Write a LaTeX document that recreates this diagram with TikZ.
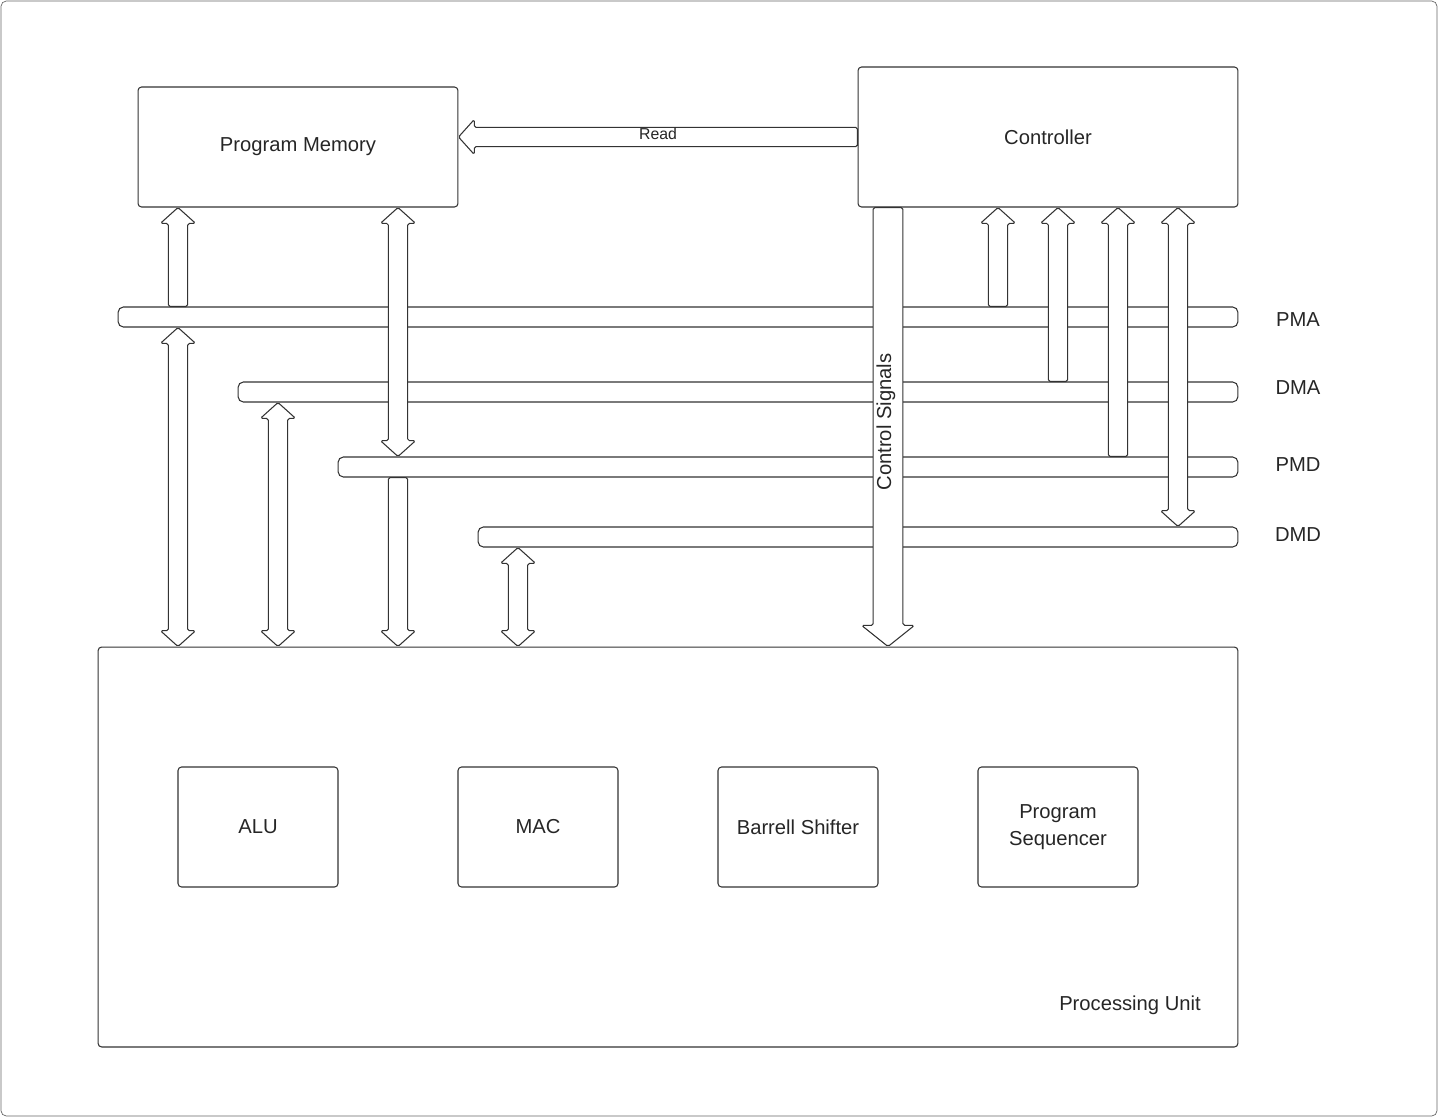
\documentclass[tikz,border=0pt]{standalone}
\usepackage{fontspec}
\setmainfont{Liberation Sans}
\usetikzlibrary{calc}
\tikzset{
  box/.style = {rectangle, rounded corners=2pt, draw=black!80, line width=0.6pt,
    text centered, align=center, font=\fontsize{11.5}{15}\selectfont, text=black!85},
  bus/.style = {rectangle, rounded corners=3pt, draw=black!80, line width=0.6pt,
    minimum height=0.4cm, inner sep=0pt},
  buslabel/.style = {font=\fontsize{11.5}{14}\selectfont, text=black!85},
  blockarrow/.style = {draw=black!80, fill=white, line width=0.6pt, rounded corners=1pt},
}
\def\sw{5.5pt}\def\hw{10pt}\def\hl{9pt}
% single block arrow, head at #2 (vertical)
\newcommand{\sarrow}[2]{%
  \draw[blockarrow] let \p1=(#1), \p2=(#2), \n1={ifthenelse(\y2>\y1,1,-1)} in
    ({\x1-\sw},\y1) -- ({\x1-\sw},{\y2-\n1*\hl}) -- ({\x1-\hw},{\y2-\n1*\hl})
    -- (\x1,\y2) -- ({\x1+\hw},{\y2-\n1*\hl}) -- ({\x1+\sw},{\y2-\n1*\hl})
    -- ({\x1+\sw},\y1) -- cycle;}
% double block arrow between #1 and #2 (vertical)
\newcommand{\darrow}[2]{%
  \draw[blockarrow] let \p1=(#1), \p2=(#2), \n1={ifthenelse(\y2>\y1,1,-1)} in
    (\x1,\y1) -- ({\x1-\hw},{\y1+\n1*\hl}) -- ({\x1-\sw},{\y1+\n1*\hl})
    -- ({\x1-\sw},{\y2-\n1*\hl}) -- ({\x1-\hw},{\y2-\n1*\hl})
    -- (\x1,\y2) -- ({\x1+\hw},{\y2-\n1*\hl}) -- ({\x1+\sw},{\y2-\n1*\hl})
    -- ({\x1+\sw},{\y1+\n1*\hl}) -- ({\x1+\hw},{\y1+\n1*\hl}) -- cycle;}
\begin{document}
\begin{tikzpicture}[x=0.02cm, y=-0.02cm]
  \useasboundingbox (0,0) rectangle (1438,1117);
  \draw[black!60, rounded corners=3pt] (1,1) rectangle (1437,1116);
  % memory and controller
  \node (programmemory) [box, minimum width=6.4cm, minimum height=2.4cm] at (298,147) {Program Memory};
  \node (controller) [box, minimum width=7.6cm, minimum height=2.8cm] at (1048,137) {Controller};
  % processing unit
  \node (processingunit) [box, minimum width=22.8cm, minimum height=8cm] at (668,847) {};
  \node (pulabel) [buslabel] at (1130,1005) {Processing Unit};
  \node (alu) [box, minimum width=3.2cm, minimum height=2.4cm] at (258,827) {ALU};
  \node (mac) [box, minimum width=3.2cm, minimum height=2.4cm] at (538,827) {MAC};
  \node (shifter) [box, minimum width=3.2cm, minimum height=2.4cm] at (798,827) {Barrell Shifter};
  \node (sequencer) [box, minimum width=3.2cm, minimum height=2.4cm] at (1058,827) {Program\\Sequencer};
  % buses
  \node (pma) [bus, minimum width=22.4cm] at (678,317) {};
  \node (dma) [bus, minimum width=20cm] at (738,392) {};
  \node (pmd) [bus, minimum width=18cm] at (788,467) {};
  \node (dmd) [bus, minimum width=15.2cm] at (858,537) {};
  \node [buslabel] at (1298,320) {PMA};
  \node [buslabel] at (1298,388) {DMA};
  \node [buslabel] at (1298,465) {PMD};
  \node [buslabel] at (1298,535) {DMD};
  % columns
  \foreach \cx in {178,278,398,518,888,998,1058,1118,1178}
    \coordinate (c\cx) at (\cx,0);
  % read arrow
  \draw[blockarrow] let \p1=(controller.west), \p2=(programmemory.east) in
    (\x1,{\y1-4pt}) -- (\x1,{\y1+5.5pt}) -- ({\x2+9pt},{\y1+5.5pt}) -- ({\x2+9pt},{\y1+10pt})
    -- (\x2,\y1) -- ({\x2+9pt},{\y1-10pt}) -- ({\x2+9pt},{\y1-5.5pt}) -- (\x1,{\y1-5.5pt}) -- cycle;
  \node (readlabel) [font=\fontsize{9}{11}\selectfont, text=black!85] at (658,134) {Read};
  % memory arrows
  \sarrow{c178 |- pma.north}{c178 |- programmemory.south}
  \darrow{c398 |- programmemory.south}{c398 |- pmd.north}
  % to processing unit
  \darrow{c178 |- pma.south}{c178 |- processingunit.north}
  \darrow{c278 |- dma.south}{c278 |- processingunit.north}
  \sarrow{c398 |- pmd.south}{c398 |- processingunit.north}
  \darrow{c518 |- dmd.south}{c518 |- processingunit.north}
  % controller arrows
  \sarrow{c998 |- pma.north}{c998 |- controller.south}
  \sarrow{c1058 |- dma.north}{c1058 |- controller.south}
  \sarrow{c1118 |- pmd.north}{c1118 |- controller.south}
  \darrow{c1178 |- controller.south}{c1178 |- dmd.north}
  {\def\sw{8.5pt}\def\hw{15pt}\def\hl{12pt}
   \sarrow{c888 |- controller.south}{c888 |- processingunit.north}}
  \node (controlsignals) [buslabel, rotate=90] at (886,422) {Control Signals};
\end{tikzpicture}
\end{document}
